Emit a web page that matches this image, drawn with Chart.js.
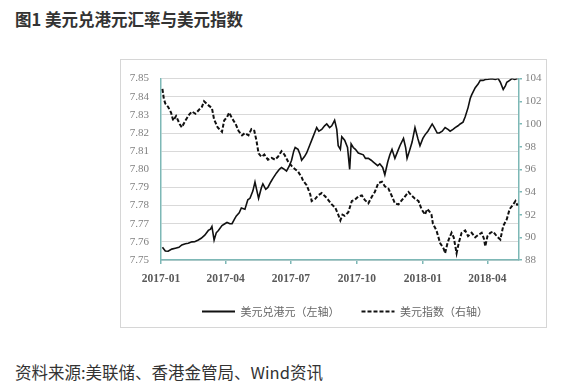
<!DOCTYPE html>
<html><head><meta charset="utf-8">
<script src="https://cdn.jsdelivr.net/npm/chart.js@4.4.1/dist/chart.umd.min.js"></script>
<style>
html,body{margin:0;padding:0;background:#fff;width:580px;height:383px;overflow:hidden;position:relative;}
#title{position:absolute;left:15px;top:9px;font-family:"Noto Sans CJK SC";font-weight:bold;font-size:16.5px;color:#333;line-height:20px;white-space:nowrap;}
#frame{position:absolute;left:120px;top:59px;width:425px;height:267px;border:1px solid #d6d6d6;}
#cv{position:absolute;left:100px;top:60px;}
#source{position:absolute;left:15px;top:362px;font-family:"Noto Sans CJK SC";font-size:16.5px;color:#333;line-height:20px;white-space:nowrap;}
</style></head><body>
<div id="title">图1 美元兑港元汇率与美元指数</div>
<div id="frame"></div>
<canvas id="cv" width="490" height="280"></canvas>
<div id="source">资料来源:美联储、香港金管局、Wind资讯</div>
<script>
// x values are day offsets from 2017-01-01
const xTickDays = [0, 90, 181, 273, 365, 455];
const xTickLabels = ['2017-01', '2017-04', '2017-07', '2017-10', '2018-01', '2018-04'];
const leftTicks = [7.75, 7.76, 7.77, 7.78, 7.79, 7.80, 7.81, 7.82, 7.83, 7.84, 7.85];
const rightTicks = [88, 90, 92, 94, 96, 98, 100, 102, 104];
const seriesNames = ['美元兑港元（左轴）', '美元指数（右轴）'];

const hkdDays = [2,6,10,15,20,25,29,34,38,43,47,52,56,61,66,69,71,74,77,80,85,89,92,96,99,103,105,109,112,117,121,124,128,131,136,140,142,146,149,153,156,161,165,168,172,175,179,182,185,187,191,194,196,200,203,207,212,217,220,224,228,231,235,238,242,245,247,250,252,256,260,263,265,268,271,275,282,285,289,293,296,299,302,305,309,312,316,319,322,326,330,333,338,341,343,347,350,352,354,358,361,365,368,372,375,378,381,385,388,392,396,400,403,407,410,414,417,421,424,428,431,433,438,442,445,449,452,456,461,466,470,473,477,480,482,486,489,493,497];
const hkdValues = [7.757,7.755,7.7548,7.756,7.7565,7.757,7.7583,7.759,7.7592,7.760,7.7601,7.761,7.762,7.7637,7.7663,7.767,7.7685,7.761,7.765,7.7663,7.769,7.770,7.7707,7.770,7.770,7.773,7.7743,7.776,7.7787,7.778,7.7832,7.784,7.788,7.793,7.784,7.790,7.792,7.789,7.790,7.793,7.795,7.798,7.800,7.801,7.800,7.799,7.802,7.805,7.810,7.812,7.811,7.808,7.805,7.807,7.809,7.813,7.818,7.823,7.821,7.822,7.824,7.825,7.823,7.824,7.827,7.822,7.813,7.811,7.818,7.816,7.812,7.800,7.814,7.812,7.811,7.809,7.808,7.806,7.806,7.805,7.804,7.803,7.802,7.803,7.801,7.797,7.804,7.808,7.811,7.806,7.810,7.813,7.817,7.812,7.806,7.811,7.815,7.819,7.823,7.817,7.813,7.817,7.819,7.821,7.823,7.825,7.823,7.820,7.820,7.821,7.823,7.822,7.821,7.822,7.823,7.824,7.825,7.826,7.829,7.834,7.839,7.841,7.845,7.847,7.849,7.849,7.8495,7.8496,7.850,7.8495,7.850,7.848,7.844,7.846,7.848,7.849,7.850,7.8495,7.850];

const dxyDays = [2,4,6,10,14,17,21,26,29,34,39,43,48,53,57,60,65,71,74,79,82,85,88,92,95,99,104,108,113,117,122,126,130,133,136,140,144,149,154,159,163,168,172,177,182,187,191,196,198,203,208,210,215,219,224,229,233,238,243,247,250,253,256,261,266,270,275,280,284,289,294,298,303,308,312,317,322,326,331,336,340,345,349,354,359,363,368,371,374,377,379,384,389,392,394,396,399,401,405,408,412,415,419,424,428,433,438,442,447,450,452,455,459,463,468,473,477,482,486,491,494,497];
const dxyValues = [103.1,102.2,101.8,101.5,101.0,100.3,100.7,100.0,99.7,100.3,100.8,101.1,100.9,101.25,101.5,102.0,101.7,101.4,100.4,99.7,99.5,99.3,100.3,100.6,101.0,100.5,100.0,99.4,99.0,99.2,99.0,99.55,99.4,98.55,97.4,97.1,97.3,96.85,97.0,96.85,97.1,97.6,97.3,96.7,96.3,96.0,95.8,95.3,95.0,94.6,93.8,93.2,93.4,93.7,93.9,93.6,93.3,92.9,92.6,92.0,91.5,92.0,91.9,92.2,93.2,93.3,93.6,93.7,93.3,93.0,93.6,94.0,94.8,94.9,94.5,94.3,93.6,93.0,92.9,93.3,93.6,94.0,93.7,93.4,93.2,92.5,92.0,92.5,92.3,92.0,91.2,90.6,89.5,89.2,89.0,88.6,89.4,89.8,90.4,90.0,88.6,89.5,90.4,90.6,90.1,90.4,90.0,90.2,90.4,89.9,89.2,90.1,90.4,90.5,90.1,89.8,91.0,91.6,92.5,92.9,93.2,92.8];

const axisColor = '#7db8b6';
const serif = 'Liberation Serif';

new Chart(document.getElementById('cv'), {
  type: 'line',
  data: {
    datasets: [
      {
        label: seriesNames[0],
        data: hkdDays.map((d, i) => ({x: d, y: hkdValues[i]})),
        yAxisID: 'y',
        borderColor: '#111',
        backgroundColor: '#111',
        borderWidth: 1.6,
        pointRadius: 0,
        tension: 0,
        fill: false
      },
      {
        label: seriesNames[1],
        data: dxyDays.map((d, i) => ({x: d, y: dxyValues[i]})),
        yAxisID: 'y1',
        borderColor: '#111',
        backgroundColor: '#111',
        borderWidth: 2,
        borderDash: [4, 2],
        pointRadius: 0,
        tension: 0,
        fill: false
      }
    ]
  },
  options: {
    responsive: false,
    animation: false,
    layout: {padding: {left: 0, right: 0, top: 12, bottom: 13}},
    plugins: {
      legend: {
        position: 'bottom',
        labels: {
          usePointStyle: true,
          pointStyle: 'line',
          pointStyleWidth: 33,
          padding: 22,
          color: '#666',
          font: {family: 'Noto Sans CJK SC', size: 11},
          generateLabels: chart => {
            const items = Chart.defaults.plugins.legend.labels.generateLabels(chart);
            items.forEach(it => {
              const ds = chart.data.datasets[it.datasetIndex];
              it.lineDash = ds.borderDash || [];
              it.lineWidth = 2;
              it.strokeStyle = '#111';
              it.pointStyle = 'line';
            });
            return items;
          }
        }
      },
      tooltip: {enabled: false}
    },
    scales: {
      x: {
        type: 'linear',
        min: 0,
        max: 499,
        afterBuildTicks: s => { s.ticks = xTickDays.map(v => ({value: v})); },
        afterFit: s => { s.height = 24; },
        ticks: {
          callback: (v, i) => xTickLabels[i],
          autoSkip: false,
          maxRotation: 0,
          padding: 8,
          color: '#595959',
          font: {family: serif, size: 11.5, weight: 'bold'}
        },
        grid: {drawOnChartArea: false, drawTicks: true, tickLength: 4, color: axisColor, lineWidth: 1.5},
        border: {display: true, color: axisColor, width: 1.5}
      },
      y: {
        position: 'left',
        min: 7.75,
        max: 7.85,
        afterBuildTicks: s => { s.ticks = leftTicks.map(v => ({value: v})); },
        afterFit: s => { s.width = 61; },
        ticks: {
          callback: v => Number(v).toFixed(2),
          padding: 12,
          color: '#7f7f7f',
          font: {family: serif, size: 11}
        },
        grid: {color: '#d9d9d9', lineWidth: 1, drawTicks: false},
        border: {display: true, color: axisColor, width: 1.5}
      },
      y1: {
        position: 'right',
        min: 88,
        max: 104,
        afterBuildTicks: s => { s.ticks = rightTicks.map(v => ({value: v})); },
        afterFit: s => { s.width = 71; },
        ticks: {
          padding: 3,
          color: '#7f7f7f',
          font: {family: serif, size: 11}
        },
        grid: {drawOnChartArea: false, drawTicks: true, tickLength: 3, color: axisColor, lineWidth: 1.5},
        border: {display: true, color: axisColor, width: 1.5}
      }
    }
  }
});
</script>
</body></html>
